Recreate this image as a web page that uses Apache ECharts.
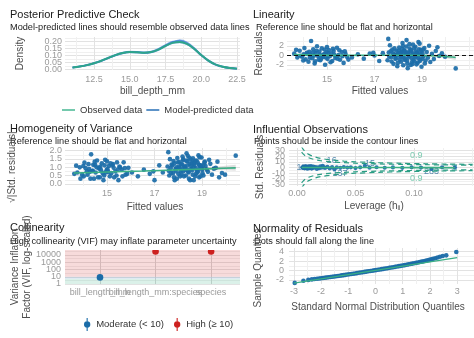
<!DOCTYPE html>
<html><head><meta charset="utf-8">
<script src="https://cdn.jsdelivr.net/npm/echarts@6/dist/echarts.min.js"></script>
<style>html,body{margin:0;padding:0;background:#fff}#c{width:474px;height:338px}</style>
</head><body><div id="c"></div>
<script>
// ---------------- DATA ----------------
// Posterior predictive check (density of bill_depth_mm)
const densityX = [11,11.5,12,12.5,13,13.5,14,14.5,15,15.5,16,16.5,17,17.5,18,18.5,19,19.5,20,20.5,21,21.5,22,22.5];
const observedDensity = [0.014,0.022,0.032,0.045,0.062,0.083,0.104,0.119,0.126,0.124,0.121,0.126,0.143,0.170,0.192,0.198,0.184,0.150,0.104,0.064,0.036,0.020,0.011,0.006];
const predictedDensity1 = [0.012,0.020,0.031,0.046,0.064,0.086,0.107,0.121,0.127,0.123,0.118,0.124,0.145,0.175,0.199,0.205,0.188,0.151,0.103,0.063,0.035,0.019,0.010,0.005];
const predictedDensity2 = [0.016,0.024,0.034,0.047,0.063,0.082,0.101,0.116,0.124,0.125,0.124,0.130,0.147,0.172,0.190,0.194,0.181,0.149,0.106,0.067,0.038,0.021,0.012,0.006];
const predictedDensity3 = [0.013,0.021,0.030,0.043,0.060,0.082,0.105,0.122,0.130,0.127,0.120,0.122,0.140,0.170,0.196,0.208,0.192,0.154,0.102,0.061,0.033,0.018,0.010,0.005];
const predictedDensity4 = [0.015,0.023,0.033,0.046,0.063,0.084,0.103,0.117,0.123,0.121,0.119,0.127,0.148,0.177,0.201,0.203,0.183,0.146,0.101,0.065,0.037,0.021,0.012,0.007];
const predictedDensity5 = [0.014,0.021,0.031,0.044,0.061,0.081,0.102,0.118,0.128,0.128,0.123,0.125,0.141,0.168,0.194,0.212,0.195,0.155,0.105,0.062,0.034,0.019,0.010,0.005];

// Linearity / homogeneity
const fittedValues = [13.62,13.75,13.85,13.95,14.02,14.10,14.15,14.22,14.30,14.33,14.38,14.42,14.48,14.52,14.58,14.62,14.68,14.72,14.78,14.82,14.88,14.92,14.98,15.02,15.08,15.12,15.18,15.22,15.28,15.35,15.42,15.48,15.55,15.62,15.70,15.78,15.85,14.05,14.65,15.00,14.45,15.40,14.85,14.25,15.25,
16.05,16.30,16.55,16.80,17.00,17.20,16.95,17.35,
17.55,17.60,17.65,17.70,17.75,17.80,17.82,17.88,17.92,17.96,18.00,18.04,18.08,18.12,18.15,18.18,18.22,18.25,18.28,18.32,18.35,18.38,18.42,18.45,18.48,18.52,18.55,18.58,18.62,18.65,18.68,18.72,18.75,18.78,18.82,18.85,18.88,18.92,18.95,18.98,19.02,19.06,19.10,19.15,19.20,19.25,19.30,19.35,19.42,19.50,19.58,19.65,19.72,
17.58,18.40,18.20,17.85,18.60,18.90,19.97,20.42,19.84,
17.62,17.68,17.72,17.78,17.84,17.90,17.94,17.98,18.02,18.06,18.10,18.14,18.17,18.21,18.24,18.27,18.30,18.34,18.37,18.41,18.44,18.47,18.50,18.54,18.57,18.61,18.64,18.67,18.71,18.74,18.77,18.81,18.84,18.87,18.91,18.94,18.97,19.01,19.05,19.12,
13.70,13.88,14.00,14.18,14.28,14.40,14.50,14.56,14.70,14.75,14.90,14.95,15.05,15.15,15.30,15.45,15.52,15.65,15.75,15.90];
const residuals = [0.35,-0.45,0.95,-0.30,0.20,-0.85,0.55,-1.35,0.10,3.00,-0.60,1.25,-1.70,0.45,1.90,-0.15,0.80,-1.05,1.45,-0.40,0.25,-2.00,0.65,-0.75,1.10,-0.20,0.40,-1.20,0.90,-0.55,1.60,0.05,-0.95,0.70,-1.60,0.30,-0.35,1.55,-0.90,1.75,-0.10,-0.25,0.05,0.75,1.35,
-0.45,0.20,-0.70,0.35,-0.05,-1.20,0.55,0.45,
-1.05,0.60,2.10,-0.40,1.20,-1.80,0.15,-0.75,0.95,-2.30,0.35,1.65,-0.20,-1.35,0.70,2.60,-0.55,1.05,-1.00,0.25,3.20,-1.75,0.50,-0.10,1.40,-2.05,0.80,-0.65,2.25,0.05,-1.25,1.80,-0.35,0.60,-1.55,2.80,0.15,-0.85,1.15,-2.40,0.40,-0.25,1.55,-1.10,0.70,-0.50,2.00,-1.40,0.30,-0.80,0.90,1.70,-0.15,
3.45,-2.70,1.95,-0.05,-1.85,2.45,-0.30,-2.75,0.42,
-0.25,0.85,-1.30,0.40,1.45,-0.60,0.10,-1.60,1.00,-0.90,0.55,-0.30,1.30,-2.10,0.20,0.95,-0.70,1.85,-1.15,0.65,-0.45,2.35,-0.05,1.10,-1.45,0.30,-0.95,1.50,-0.20,0.85,-1.90,0.45,-0.60,1.25,-1.20,0.20,0.95,-0.75,1.20,-1.70,
1.15,-0.10,-1.10,0.30,-0.50,0.60,-1.25,0.95,0.15,-0.65,1.20,-0.45,0.50,-1.45,0.15,-0.70,1.05,-0.20,0.85,-0.90];
const sqrtAbsStdResiduals = [0.61,0.69,1.00,0.56,0.46,0.95,0.76,1.19,0.32,1.78,0.79,1.15,1.34,0.69,1.41,0.40,0.92,1.05,1.24,0.65,0.51,1.45,0.83,0.89,1.08,0.46,0.65,1.12,0.97,0.76,1.30,0.23,1.00,0.86,1.30,0.56,0.61,1.28,0.97,1.36,0.32,0.51,0.23,0.89,1.19,
0.69,0.46,0.86,0.61,0.23,1.12,0.76,0.69,
1.05,0.79,1.49,0.65,1.12,1.38,0.40,0.89,1.00,1.56,0.61,1.32,0.46,1.19,0.86,1.65,0.76,1.05,1.03,0.51,1.84,1.36,0.73,0.32,1.21,1.47,0.92,0.83,1.54,0.23,1.15,1.38,0.61,0.79,1.28,1.72,0.40,0.95,1.10,1.59,0.65,0.51,1.28,1.08,0.86,0.73,1.45,1.21,0.56,0.92,0.97,1.34,0.40,
1.91,1.69,1.43,0.23,1.40,1.61,0.56,1.70,0.66,
0.51,0.95,1.17,0.65,1.24,0.79,0.32,1.30,1.03,0.97,0.76,0.56,1.17,1.49,0.46,1.00,0.86,1.40,1.10,0.83,0.69,1.57,0.23,1.08,1.24,0.56,1.00,1.26,0.46,0.95,1.41,0.69,0.79,1.15,1.12,0.46,1.00,0.89,1.12,1.34,
1.10,0.32,1.08,0.56,0.73,0.79,1.15,1.00,0.40,0.83,1.12,0.69,0.73,1.24,0.40,0.86,1.05,0.46,0.95,0.97];
const linSmoothX = [13.6,14.5,15.5,16.5,17.5,18.5,19.5,20.0,20.42];
const linSmoothY = [0.15,0.05,-0.02,0.0,0.02,0.0,-0.1,-0.25,-0.45];
const linBandX = [19.0,19.5,20.0,20.42];
const linBandLo = [-0.25,-0.38,-0.62,-0.98];
const linBandHi = [0.15,0.16,0.12,0.06];
const homSmoothX = [13.6,15.0,16.5,18.0,19.5,20.42];
const homSmoothY = [0.66,0.72,0.78,0.85,0.92,0.97];
const homBandX = [19.0,19.5,20.0,20.42];
const homBandLo = [0.82,0.83,0.83,0.80];
const homBandHi = [0.98,1.02,1.09,1.15];

// Influential observations
const leverage = [0.0045,0.005,0.0055,0.006,0.0062,0.0065,0.007,0.0072,0.0075,0.008,0.0082,0.0085,0.009,0.0092,0.0095,0.01,0.0105,0.011,0.0115,0.012,0.0125,0.013,0.0135,0.014,0.015,0.016,0.017,0.018,0.019,0.02,0.021,0.022,0.023,0.024,0.026,0.028,0.03,0.032,0.034,0.037,0.04,0.043,0.046,0.05,0.054,0.058,0.062,0.068,0.075,0.082,0.09,0.098,0.106,0.115,0.124,0.135];
const stdResiduals = [0.3,-0.8,1.2,-0.2,0.6,-1.5,0.9,-0.5,2.1,-1.0,0.1,1.6,-2.2,0.4,-0.3,1.0,-1.3,0.7,-0.6,2.6,-1.8,0.2,-0.9,1.4,-0.1,0.8,-2.5,0.5,-1.1,1.9,-0.4,3.1,0.3,-0.7,1.1,-1.6,0.6,-2.9,0.2,-0.5,0.9,-0.2,0.4,-1.0,0.3,3.0,-0.3,0.5,-0.4,0.2,-0.6,0.4,-0.1,-2.6,0.3,0.1];
const cookLeverage = [0.004,0.005,0.0075,0.01,0.015,0.02,0.03,0.04,0.05,0.07,0.09,0.11,0.13,0.15];
const cook05Upper = [27.3,24.4,19.9,17.2,14.0,12.1,9.85,8.49,7.55,6.31,5.51,4.93,4.48,4.12];
const cook05Lower = [-27.3,-24.4,-19.9,-17.2,-14.0,-12.1,-9.85,-8.49,-7.55,-6.31,-5.51,-4.93,-4.48,-4.12];
const cook09Upper = [36.6,32.8,26.7,23.1,18.8,16.2,13.2,11.4,10.1,8.47,7.39,6.61,6.01,5.53];
const cook09Lower = [-36.6,-32.8,-26.7,-23.1,-18.8,-16.2,-13.2,-11.4,-10.1,-8.47,-7.39,-6.61,-6.01,-5.53];
const infSmoothX = [0.004,0.02,0.04,0.07,0.1,0.135];
const infSmoothY = [0.05,0.0,-0.1,-0.05,-0.2,-0.3];
const infBandX = [0.09,0.11,0.135];
const infBandLo = [-1.2,-1.8,-2.8];
const infBandHi = [0.8,1.4,2.2];
const obsLabels = ['186','16','15','137','283'];
const obsLabelLev = [0.006,0.0296,0.0624,0.0368,0.115];
const obsLabelRes = [0.0,13.2,6.2,-10.3,-7.4];
const contourLabels = ['0.9','0.9'];
const contourLabelLev = [0.102,0.102];
const contourLabelRes = [22,-19];

// Collinearity
const vifTerms = ['bill_length_mm','bill_length_mm:species','species'];
const vifValues = [8.2,30000,30000];

// Normality of residuals (QQ)
const qqTheoretical = [-2.97,-2.65,-2.47,-2.34,-2.24,-2.15,-2.07,-2.0,-1.93,-1.86,-1.8,-1.73,-1.66,-1.59,-1.52,-1.45,-1.38,-1.31,-1.24,-1.17,-1.1,-1.03,-0.96,-0.89,-0.82,-0.75,-0.68,-0.61,-0.54,-0.47,-0.4,-0.33,-0.26,-0.19,-0.12,-0.05,0.02,0.09,0.16,0.23,0.3,0.37,0.44,0.51,0.58,0.65,0.72,0.79,0.86,0.93,1.0,1.07,1.14,1.21,1.28,1.35,1.42,1.49,1.56,1.63,1.7,1.77,1.84,1.91,1.98,2.05,2.12,2.2,2.28,2.37,2.47,2.6,2.97];
const qqSample = [-2.62,-2.15,-1.98,-1.88,-1.80,-1.74,-1.68,-1.63,-1.58,-1.53,-1.48,-1.43,-1.38,-1.32,-1.27,-1.21,-1.15,-1.09,-1.03,-0.97,-0.91,-0.85,-0.79,-0.73,-0.67,-0.61,-0.54,-0.48,-0.42,-0.35,-0.29,-0.22,-0.16,-0.09,-0.03,0.04,0.10,0.17,0.23,0.30,0.36,0.43,0.50,0.57,0.64,0.71,0.78,0.85,0.93,1.00,1.08,1.15,1.23,1.31,1.39,1.47,1.55,1.63,1.71,1.80,1.89,1.98,2.07,2.16,2.26,2.37,2.48,2.61,2.76,2.92,3.08,3.22,3.92];
const qqLineX = [-3.0,3.0];
const qqLineY = [-2.65,2.75];

// ---------------- STYLE / LAYOUT ----------------
const FONT = '"Liberation Sans", Arial, Helvetica, sans-serif';
const MAJOR = '#e2e2e2', MINOR = '#f0f0f0';
const BLUE = '#1b6ca8', GREEN = '#3aaf85', RED = '#cd201f';
const zip = (a, b) => a.map((v, i) => [v, b[i]]);

const grids = [
  {left:65, top:37, width:175, height:33},
  {left:287, top:37, width:187, height:33},
  {left:65, top:148, width:175, height:38},
  {left:289, top:148, width:185, height:38},
  {left:65, top:250, width:175, height:34},
  {left:289, top:248, width:185, height:36}
].map(g => Object.assign({outerBoundsMode:'none', containLabel:false}, g));

// Primary axis (grid lines + first label group) and extra label-only axes,
// so that overlapping tick labels are all drawn as in the original.
const extraX = [], extraY = [];
function axis(o, extras) {
  const eps = 1e-9;
  const inR = v => v >= o.min - eps && v <= o.max + eps;
  const all = o.majors.map(v => [v, 1]).concat((o.minors || []).map(v => [v, 0]))
    .filter(t => inR(t[0])).sort((a, b) => a[0] - b[0]);
  const majors = o.majors.filter(inR);
  const k = o.groups || 1;
  const mk = (labels, withLines) => {
    const a = {
      gridIndex: o.grid, type: o.type || 'value', position: o.pos,
      min: o.min, max: o.max,
      axisLine: {show: false},
      axisTick: {show: false, customValues: withLines ? all.map(t => t[0]) : labels},
      axisLabel: {customValues: labels, formatter: o.fmt, color: '#9a9a9a',
        fontSize: 9, fontFamily: FONT, margin: o.margin, showMinLabel: true, showMaxLabel: true, hideOverlap: false},
      splitLine: withLines ? {show: true, lineStyle: {color: all.map(t => t[1] ? MAJOR : MINOR), width: 1}} : {show: false},
      minorSplitLine: {show: false}, splitArea: {show: false}
    };
    if (o.type === 'log') a.logBase = 10;
    return a;
  };
  const group = j => majors.filter((v, i) => i % k === j);
  for (let j = 1; j < k; j++) extras.push(mk(group(j), false));
  return mk(group(0), true);
}

const xAxes = [
  axis({grid:0, pos:'bottom', min:10.47, max:22.71, majors:[12.5,15,17.5,20,22.5], minors:[11.25,13.75,16.25,18.75,21.25], fmt:v=>v.toFixed(1), margin:5}, extraX),
  axis({grid:1, pos:'bottom', min:13.316, max:21.19, majors:[15,17,19], minors:[14,16,18,20,21], fmt:v=>String(v), margin:5}, extraX),
  axis({grid:2, pos:'bottom', min:13.23, max:20.6, majors:[15,17,19], minors:[14,16,18,20], fmt:v=>String(v), margin:3}, extraX),
  axis({grid:3, pos:'bottom', min:-0.00684, max:0.1513, majors:[0,0.05,0.1], minors:[0.025,0.075,0.125,0.15], fmt:v=>v.toFixed(2), margin:3}, extraX),
  axis({grid:4, pos:'bottom', min:0.37, max:3.52, majors:[1,2,3], minors:[], fmt:v=>vifTerms[Math.round(v)-1], margin:4, groups:2}, extraX),
  axis({grid:5, pos:'bottom', min:-3.18, max:3.62, majors:[-3,-2,-1,0,1,2,3], minors:[-2.5,-1.5,-0.5,0.5,1.5,2.5], fmt:v=>String(v), margin:3}, extraX)
];
xAxes[4].splitLine.lineStyle.color = '#d6d6d6';
const yAxes = [
  axis({grid:0, pos:'left', min:-0.0036, max:0.234, majors:[0,0.05,0.1,0.15,0.2], minors:[0.025,0.075,0.125,0.175,0.225], fmt:v=>v.toFixed(2), margin:3, groups:2}, extraY),
  axis({grid:1, pos:'left', min:-3.09, max:3.85, majors:[-2,0,2], minors:[-3,-1,1,3], fmt:v=>String(v), margin:3}, extraY),
  axis({grid:2, pos:'left', min:-0.12, max:2.16, majors:[0,0.5,1,1.5,2], minors:[0.25,0.75,1.25,1.75], fmt:v=>v.toFixed(1), margin:3, groups:2}, extraY),
  axis({grid:3, pos:'left', min:-32.6, max:34.4, majors:[-30,-20,-10,0,10,20,30], minors:[-25,-15,-5,5,15,25], fmt:v=>String(v), margin:4, groups:3}, extraY),
  axis({grid:4, pos:'left', type:'log', min:1, max:49000, majors:[1,10,100,1000,10000], minors:[3.162,31.62,316.2,3162,31623], fmt:v=>String(Math.round(v)), margin:4, groups:2}, extraY),
  axis({grid:5, pos:'left', min:-2.85, max:4.78, majors:[-2,0,2,4], minors:[-1,1,3], fmt:v=>String(v), margin:5, groups:2}, extraY)
];

function bandSeries(idx, bx, lo, hi) {
  return {
    type:'custom', xAxisIndex:idx, yAxisIndex:idx, silent:true, z:3,
    data:[[bx[0], lo[0]]],
    renderItem: (params, api) => {
      const pts = bx.map((x, i) => api.coord([x, hi[i]]))
        .concat(bx.map((x, i) => api.coord([x, lo[i]])).reverse());
      return {type:'polygon', shape:{points:pts}, style:{fill:'rgba(0,0,0,0.13)'}};
    }
  };
}
function lineS(idx, data, color, width, extra) {
  return Object.assign({type:'line', xAxisIndex:idx, yAxisIndex:idx, data, showSymbol:false, symbol:'none',
    silent:true, clip:true, lineStyle:{color, width}, itemStyle:{color}}, extra || {});
}
function vifSeries(name, color, data) {
  return {
    type:'custom', name, xAxisIndex:4, yAxisIndex:4, clip:true, silent:true, z:5,
    itemStyle:{color}, data, encode:{x:0, y:1},
    renderItem: (params, api) => {
      const p = api.coord([api.value(0), api.value(1)]);
      return {type:'circle', shape:{cx:p[0], cy:p[1], r:3.3}, style:{fill:color}};
    }
  };
}

const predicted = [predictedDensity1, predictedDensity2, predictedDensity3, predictedDensity4, predictedDensity5];
const series = [];
predicted.forEach(p => series.push(lineS(0, zip(densityX, p), 'rgba(45,115,210,0.45)', 1.6,
  {name:'Model-predicted data', smooth:0.35, z:2})));
series.push(lineS(0, zip(densityX, observedDensity), '#2ea58a', 1.9, {name:'Observed data', smooth:0.35, z:3}));

// Linearity
series.push({type:'scatter', xAxisIndex:1, yAxisIndex:1, data:zip(fittedValues, residuals), symbolSize:4.6,
  itemStyle:{color:BLUE, opacity:0.92}, silent:true, z:2, large:false,
  markLine:{silent:true, symbol:'none', label:{show:false}, data:[{yAxis:0}],
    lineStyle:{type:[4,3], color:'#111', width:1}}});
series.push(bandSeries(1, linBandX, linBandLo, linBandHi));
series.push(lineS(1, zip(linSmoothX, linSmoothY), GREEN, 1.6, {smooth:0.3, z:4}));

// Homogeneity
series.push({type:'scatter', xAxisIndex:2, yAxisIndex:2, data:zip(fittedValues, sqrtAbsStdResiduals), symbolSize:4.6,
  itemStyle:{color:BLUE, opacity:0.92}, silent:true, z:2, large:false});
series.push(bandSeries(2, homBandX, homBandLo, homBandHi));
series.push(lineS(2, zip(homSmoothX, homSmoothY), GREEN, 1.6, {smooth:0.3, z:4}));

// Influential
[cook05Upper, cook05Lower, cook09Upper, cook09Lower].forEach(c =>
  series.push(lineS(3, zip(cookLeverage, c), '#2a9d84', 1.2, {smooth:0.3, z:2, lineStyle:{color:'#2a9d84', width:1.2, type:[5,4]}})));
series.push({type:'scatter', xAxisIndex:3, yAxisIndex:3, symbolSize:0, silent:true, z:1,
  data: obsLabels.map((t, i) => ({name:t, value:[obsLabelLev[i], obsLabelRes[i]]})),
  label:{show:true, position:'inside', formatter:p => p.name, color:'#2f6e9c', fontSize:9, fontFamily:FONT}});
series.push({type:'scatter', xAxisIndex:3, yAxisIndex:3, symbolSize:0, silent:true, z:1,
  data: contourLabels.map((t, i) => ({name:t, value:[contourLabelLev[i], contourLabelRes[i]]})),
  label:{show:true, position:'inside', formatter:p => p.name, color:'#5cbf9f', fontSize:9, fontFamily:FONT}});
series.push({type:'scatter', xAxisIndex:3, yAxisIndex:3, data:zip(leverage, stdResiduals), symbolSize:4.2,
  itemStyle:{color:BLUE, opacity:0.92}, silent:true, z:2});
series.push(bandSeries(3, infBandX, infBandLo, infBandHi));
series.push(lineS(3, zip(infSmoothX, infSmoothY), GREEN, 1.6, {smooth:0.3, z:4}));

// Collinearity
const moderate = [], high = [];
vifValues.forEach((v, i) => (v < 10 ? moderate : high).push([i + 1, v]));
const modS = vifSeries('Moderate (< 10)', BLUE, moderate);
modS.markArea = {silent:true, data:[
  [{yAxis:1, itemStyle:{color:'rgba(58,175,133,0.18)'}}, {yAxis:5}],
  [{yAxis:5, itemStyle:{color:'rgba(27,108,168,0.14)'}}, {yAxis:10}],
  [{yAxis:10, itemStyle:{color:'rgba(205,32,31,0.16)'}}, {yAxis:49000}]
]};
series.push(modS);
series.push(vifSeries('High (≥ 10)', RED, high));

// Normality
series.push({type:'scatter', xAxisIndex:5, yAxisIndex:5, data:zip(qqTheoretical, qqSample), symbolSize:4.6,
  itemStyle:{color:BLUE, opacity:0.95}, silent:true, z:2});
series.push(lineS(5, zip(qqLineX, qqLineY), GREEN, 1.3, {z:3}));

// ---------------- TEXT ----------------
function txt(text, x, y, size, color, extra) {
  return {type:'text', x, y, silent:true, z:100,
    style:Object.assign({text, fontSize:size, fontFamily:FONT, fill:color, align:'left', verticalAlign:'middle'}, extra || {})};
}
function vtxt(text, x, y, size, color) {
  return {type:'text', x, y, rotation:Math.PI/2, silent:true, z:110,
    style:{text, fontSize:size, fontFamily:FONT, fill:color, align:'center', verticalAlign:'middle'}};
}
const TCOL = '#1a1a1a', SCOL = '#222', ACOL = '#4d4d4d';
const rightSub = {backgroundColor:'#fff', padding:[1,0,1,6]};
const graphics = [
  txt('Posterior Predictive Check', 10, 14.6, 11, TCOL),
  txt('Model-predicted lines should resemble observed data lines', 10, 27, 9.2, SCOL),
  txt('Linearity', 253, 14.6, 11, TCOL),
  txt('Reference line should be flat and horizontal', 250, 27, 9.2, SCOL, rightSub),
  txt('Homogeneity of Variance', 10, 129, 11, TCOL),
  txt('Reference line should be flat and horizontal', 10, 141, 9.2, SCOL),
  txt('Influential Observations', 253, 129.5, 11, TCOL),
  txt('Points should be inside the contour lines', 248, 141, 9.2, SCOL, rightSub),
  txt('Collinearity', 10, 228, 11, TCOL),
  txt('High collinearity (VIF) may inflate parameter uncertainty', 10, 241, 9.2, SCOL),
  txt('Normality of Residuals', 253, 229, 11, TCOL),
  txt('Dots should fall along the line', 248, 241, 9.2, SCOL, rightSub),
  // axis titles
  txt('bill_depth_mm', 152.5, 91, 10, ACOL, {align:'center'}),
  txt('Fitted values', 380, 91, 10, ACOL, {align:'center'}),
  txt('Fitted values', 155, 207, 10, ACOL, {align:'center'}),
  txt('Standard Normal Distribution Quantiles', 378, 307, 10, ACOL, {align:'center'}),
  {type:'text', x:374, y:206, silent:true, z:100, style:{
    text:'Leverage (h{s|ii})', fontSize:10, fontFamily:FONT, fill:ACOL, align:'center', verticalAlign:'middle',
    rich:{s:{fontSize:6.5, fontFamily:FONT, fill:ACOL, padding:[5,0,0,0]}}}},
  vtxt('Density', 20, 53.5, 10, ACOL),
  vtxt('Residuals', 259, 53.5, 10, ACOL),
  vtxt('√|Std. residuals|', 12.5, 167, 10, ACOL),
  vtxt('Std. Residuals', 260, 167, 10, ACOL),
  vtxt('Variance Inflation', 15, 267, 10, ACOL),
  vtxt('Factor (VIF, log-scaled)', 27, 267, 10, ACOL),
  vtxt('Sample Quantiles', 258, 268, 10, ACOL)
];

const pointRangeIcon = 'path://M4.4,0 L5.6,0 L5.6,14 L4.4,14 Z M1.6,7 A3.4,3.4 0 1 1 8.4,7 A3.4,3.4 0 1 1 1.6,7 Z';

const option = {
  animation:false,
  backgroundColor:'#fff',
  grid: grids,
  xAxis: xAxes.concat(extraX),
  yAxis: yAxes.concat(extraY),
  legend: [
    {left:62, top:105, padding:0, itemWidth:13, itemHeight:2, itemGap:4, selectedMode:false,
     textStyle:{fontSize:9.5, color:'#333', fontFamily:FONT},
     data:[{name:'Observed data', icon:'rect', itemStyle:{color:'#74c9ad'}},
           {name:'Model-predicted data', icon:'rect', itemStyle:{color:'#5d93c8'}}]},
    {left:84, top:318, padding:0, itemWidth:8, itemHeight:13, itemGap:10, selectedMode:false,
     textStyle:{fontSize:9.5, color:'#333', fontFamily:FONT},
     data:[{name:'Moderate (< 10)', icon:pointRangeIcon, itemStyle:{color:BLUE}},
           {name:'High (≥ 10)', icon:pointRangeIcon, itemStyle:{color:RED}}]}
  ],
  series: series,
  graphic: graphics
};
const chart = echarts.init(document.getElementById('c'), null, {renderer:'canvas', width:474, height:338});
chart.setOption(option);
</script></body></html>
